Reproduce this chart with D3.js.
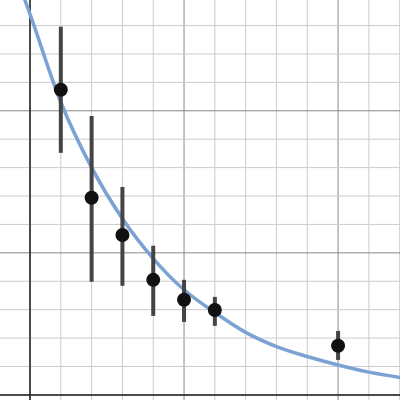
<!doctype html>
<html>
<head>
<script src="https://cdnjs.cloudflare.com/ajax/libs/d3/7.8.5/d3.min.js"></script>
<style>body{margin:0;background:#fff}</style>
</head>
<body>
<svg id="chart" width="400" height="400"></svg>
<script>
// observed points with error bars
const xs = [1, 2, 3, 4, 5, 6, 10];
const ys = [10.74, 6.94, 5.63, 4.05, 3.35, 2.99, 1.73];
const lows = [8.52, 3.98, 3.84, 2.78, 2.57, 2.43, 1.23];
const highs = [12.96, 9.82, 7.32, 5.25, 4.05, 3.45, 2.25];

// fitted curve
const curveX = [-0.2, 0, 1, 2, 3, 4, 5, 6, 7, 8, 9, 10, 11, 12.1];
const curveY = [14.0, 13.4, 10.3, 8.0, 6.2, 4.8, 3.7, 2.9, 2.2, 1.7, 1.35, 1.05, 0.8, 0.6];

const svg = d3.select("#chart");
const x = d3.scaleLinear().domain([-0.974, 12.01]).range([0, 400]);
const y = d3.scaleLinear().domain([-0.18, 13.9]).range([400, 0]);

// grid
const minorX = d3.range(-0, 13, 1), minorY = d3.range(0, 14, 1);
svg.selectAll("line.vx").data(minorX).enter().append("line")
  .attr("x1", d => x(d)).attr("x2", d => x(d)).attr("y1", 0).attr("y2", 400)
  .attr("stroke", d => d % 5 === 0 ? "#888" : "#ccc").attr("stroke-width", 1);
svg.selectAll("line.hy").data(minorY).enter().append("line")
  .attr("y1", d => y(d)).attr("y2", d => y(d)).attr("x1", 0).attr("x2", 400)
  .attr("stroke", d => d % 5 === 0 ? "#888" : "#ccc").attr("stroke-width", 1);
svg.append("line").attr("x1", x(0)).attr("x2", x(0)).attr("y1", 0).attr("y2", 400)
  .attr("stroke", "#222").attr("stroke-width", 1.5);
svg.append("line").attr("y1", y(0)).attr("y2", y(0)).attr("x1", 0).attr("x2", 400)
  .attr("stroke", "#222").attr("stroke-width", 1.5);

// curve
svg.append("path")
  .datum(curveX.map((d, i) => [d, curveY[i]]))
  .attr("d", d3.line().x(d => x(d[0])).y(d => y(d[1])).curve(d3.curveMonotoneX))
  .attr("fill", "none").attr("stroke", "#7ba2d3").attr("stroke-width", 3.5);

// error bars
svg.selectAll("line.err").data(xs).enter().append("line")
  .attr("x1", d => x(d)).attr("x2", d => x(d))
  .attr("y1", (d, i) => y(lows[i])).attr("y2", (d, i) => y(highs[i]))
  .attr("stroke", "#444").attr("stroke-width", 4);

// points
svg.selectAll("circle.pt").data(xs).enter().append("circle")
  .attr("cx", d => x(d)).attr("cy", (d, i) => y(ys[i])).attr("r", 7)
  .attr("fill", "#111");
</script>
</body>
</html>
